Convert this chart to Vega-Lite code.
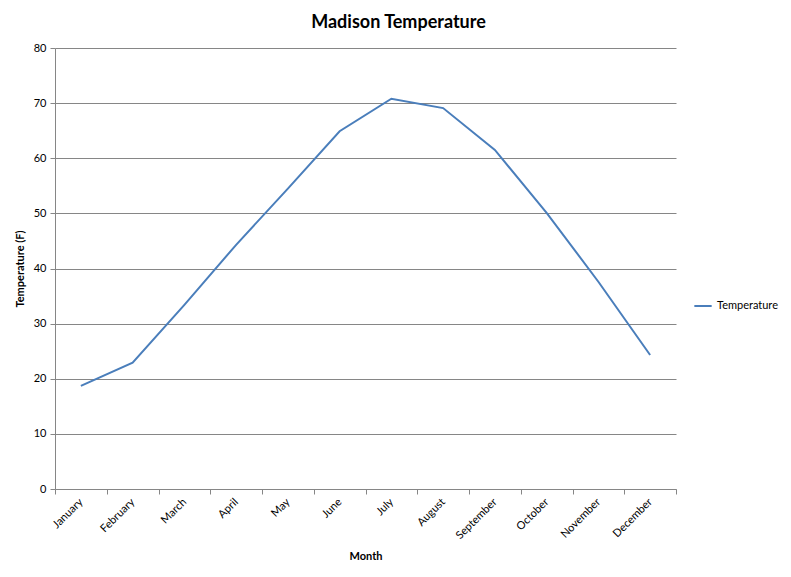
{
  "$schema": "https://vega.github.io/schema/vega-lite/v6.json",
  "width": 621,
  "height": 441,
  "autosize": "none",
  "padding": {"left": 55, "top": 48, "right": 115, "bottom": 88},
  "background": "white",
  "title": {
    "text": "Madison Temperature",
    "font": "Lato",
    "fontSize": 18,
    "fontWeight": "bold",
    "color": "black",
    "anchor": "middle",
    "dx": 33,
    "offset": 10
  },
  "data": {
    "values": [
      {"month": "January", "temp": 18.7, "series": "Temperature"},
      {"month": "February", "temp": 22.9, "series": "Temperature"},
      {"month": "March", "temp": 33.4, "series": "Temperature"},
      {"month": "April", "temp": 44.3, "series": "Temperature"},
      {"month": "May", "temp": 54.5, "series": "Temperature"},
      {"month": "June", "temp": 64.9, "series": "Temperature"},
      {"month": "July", "temp": 70.8, "series": "Temperature"},
      {"month": "August", "temp": 69.1, "series": "Temperature"},
      {"month": "September", "temp": 61.5, "series": "Temperature"},
      {"month": "October", "temp": 50.1, "series": "Temperature"},
      {"month": "November", "temp": 37.6, "series": "Temperature"},
      {"month": "December", "temp": 24.3, "series": "Temperature"}
    ]
  },
  "mark": {"type": "line", "strokeWidth": 2},
  "encoding": {
    "x": {
      "field": "month",
      "type": "nominal",
      "sort": null,
      "scale": {"paddingInner": 0, "paddingOuter": 0},
      "axis": {
        "title": "Month",
        "titleFont": "Lato",
        "titleFontSize": 11,
        "titleFontWeight": "bold",
        "titleColor": "black",
        "titlePadding": 10,
        "labelAngle": -45,
        "labelAlign": "right",
        "labelBaseline": "middle",
        "labelFont": "Lato",
        "labelFontSize": 11,
        "labelColor": "black",
        "labelPadding": 6,
        "tickBand": "extent",
        "tickColor": "#868686",
        "tickSize": 5,
        "domainColor": "#868686",
        "grid": false
      }
    },
    "y": {
      "field": "temp",
      "type": "quantitative",
      "scale": {"domain": [0, 80], "nice": false},
      "axis": {
        "title": "Temperature (F)",
        "titleFont": "Lato",
        "titleFontSize": 11,
        "titleFontWeight": "bold",
        "titleColor": "black",
        "titlePadding": 8,
        "values": [0, 10, 20, 30, 40, 50, 60, 70, 80],
        "labelFont": "Lato",
        "labelFontSize": 11,
        "labelColor": "black",
        "labelPadding": 4,
        "tickColor": "#868686",
        "tickSize": 5,
        "domainColor": "#868686",
        "gridColor": "#868686",
        "gridOpacity": 1
      }
    },
    "color": {
      "field": "series",
      "type": "nominal",
      "scale": {"range": ["#4a7ebb"]},
      "legend": {
        "title": null,
        "orient": "none",
        "legendX": 638,
        "legendY": 248,
        "symbolType": "stroke",
        "symbolStrokeWidth": 2,
        "symbolSize": 300,
        "labelFont": "Lato",
        "labelFontSize": 11,
        "labelColor": "black"
      }
    }
  },
  "config": {
    "view": {"stroke": null}
  }
}
